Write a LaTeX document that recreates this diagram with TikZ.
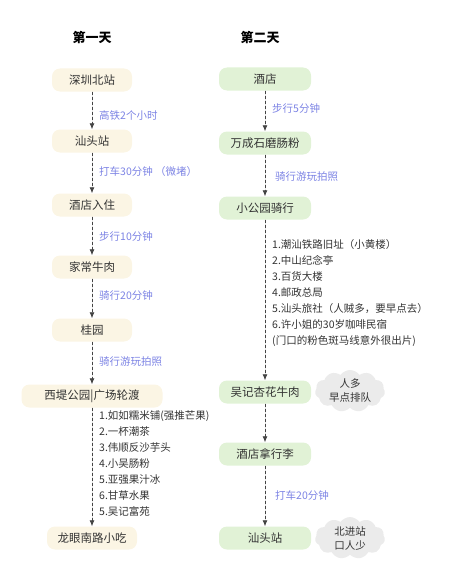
\documentclass[tikz,border=0pt]{standalone}
\usepackage{fontspec}
\setmainfont{Noto Sans CJK SC}
\usetikzlibrary{arrows.meta, positioning, shapes.symbols}
\definecolor{dayonefill}{HTML}{FBF5E4}
\definecolor{daytwofill}{HTML}{E1F2D6}
\definecolor{notegray}{HTML}{EBEBEB}
\definecolor{routeblue}{HTML}{7C83E4}
\definecolor{inkgray}{HTML}{333333}
\definecolor{flowgray}{HTML}{444444}

\begin{document}
\begin{tikzpicture}[
      x=1pt, y=-1pt,
      spot/.style={rounded corners=8pt, minimum height=23pt, inner sep=2pt,
        text=inkgray, font=\fontsize{11.5}{13}\selectfont},
      dayone/.style={spot, fill=dayonefill, minimum width=80pt},
      daytwo/.style={spot, fill=daytwofill, minimum width=92pt},
      route/.style={anchor=west, text=routeblue, inner sep=0pt,
        font=\fontsize{10.5}{12}\selectfont},
      plan/.style={anchor=north west, align=left, text=inkgray, inner sep=0pt,
        font=\fontsize{10.5}{16}\selectfont},
      note/.style={cloud, cloud puffs=11, cloud puff arc=110, aspect=2,
        fill=notegray, minimum width=70pt, minimum height=38pt, inner sep=0pt,
        align=center, text=inkgray, font=\fontsize{10.5}{14}\selectfont},
      flow/.style={-{Latex[length=6pt, width=5pt]}, draw=flowgray, fill=flowgray,
        dash pattern=on 3pt off 2pt, line width=0.8pt},
      dayhead/.style={text=black, font=\fontsize{13}{15}\selectfont\bfseries}
    ]
      \useasboundingbox (0,0) rectangle (474,578);

      % day one
      \node[dayhead] (headone) at (92,37) {第一天};
      \node[dayone] (shenzhen) at (92,80) {深圳北站};
      \node[dayone] (shantou) at (92,141) {汕头站};
      \node[dayone] (checkin) at (92,205) {酒店入住};
      \node[dayone] (beef) at (92,267) {家常牛肉};
      \node[dayone] (guiyuan) at (92,330) {桂园};
      \node[dayone, minimum width=141pt] (xidi) at (92,396) {西堤公园|广场轮渡};
      \node[dayone, minimum width=90pt] (longyan) at (92,538) {龙眼南路小吃};

      \draw[flow] (shenzhen) -- (shantou);
      \draw[flow] (shantou) -- (checkin);
      \draw[flow] (checkin) -- (beef);
      \draw[flow] (beef) -- (guiyuan);
      \draw[flow] (guiyuan) -- (xidi);
      \draw[flow] (xidi) -- (longyan);

      \node[route] (legone) at (99,115) {高铁2个小时};
      \node[route] (legtwo) at (99,172) {打车30分钟 （微堵）};
      \node[route] (legthree) at (99,237) {步行10分钟};
      \node[route] (legfour) at (99,296) {骑行20分钟};
      \node[route] (legfive) at (99,362) {骑行游玩拍照};
      \node[plan] (snacks) at (99,410) {1.如如糯米铺(强推芒果)\\2.一杯潮茶\\3.伟顺反沙芋头\\4.小吴肠粉\\5.亚强果汁冰\\6.甘草水果\\5.吴记富苑};

      % day two
      \node[dayhead] (headtwo) at (260,37) {第二天};
      \node[daytwo] (hotel) at (265,79) {酒店};
      \node[daytwo] (wancheng) at (265,143) {万成石磨肠粉};
      \node[daytwo] (park) at (265,208) {小公园骑行};
      \node[daytwo] (wuji) at (265,392) {吴记杏花牛肉};
      \node[daytwo] (luggage) at (265,454) {酒店拿行李};
      \node[daytwo] (station) at (265,538) {汕头站};

      \draw[flow] (hotel) -- (wancheng);
      \draw[flow] (wancheng) -- (park);
      \draw[flow] (park) -- (wuji);
      \draw[flow] (wuji) -- (luggage);
      \draw[flow] (luggage) -- (station);

      \node[route] (walkfive) at (272,109) {步行5分钟};
      \node[route] (ride) at (275,177) {骑行游玩拍照};
      \node[plan] (sights) at (272,239) {1.潮汕铁路旧址（小黄楼）\\2.中山纪念亭\\3.百货大楼\\4.邮政总局\\5.汕头旅社（人贼多，要早点去）\\6.许小姐的30岁咖啡民宿\\(门口的粉色斑马线意外很出片)};
      \node[route] (taxi) at (275,495) {打车20分钟};

      \node[note] (crowd) at (350,391) {人多\\早点排队};
      \node[note] (northgate) at (350,538) {北进站\\口人少};
    \end{tikzpicture}
\end{document}
